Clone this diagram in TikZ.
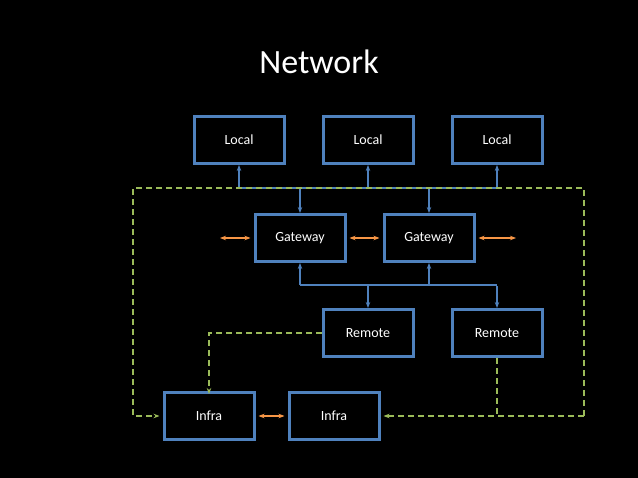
\documentclass[tikz,border=0pt]{standalone}
\usepackage{fontspec}
\setmainfont{Carlito}
\usetikzlibrary{arrows.meta}
\definecolor{boxblue}{RGB}{79,129,189}
\definecolor{linkorange}{RGB}{247,150,70}
\definecolor{dashgreen}{RGB}{155,187,89}
\tikzset{
  unit/.style={draw=boxblue, line width=3pt, fill=black, text=white,
    minimum width=90pt, minimum height=47pt, font=\fontsize{14}{16}\selectfont},
  bus/.style={draw=boxblue, line width=1.5pt, -{Stealth[length=6pt]}},
  peer/.style={draw=linkorange, line width=2pt, {Stealth[length=6pt]}-{Stealth[length=6pt]}},
  backup/.style={draw=dashgreen, line width=1.5pt, dash pattern=on 6pt off 4pt, -{Stealth[length=6pt,open]}}
}
\begin{document}
\begin{tikzpicture}[x=1pt, y=-1pt]
\fill[black] (0,0) rectangle (638,478);
\useasboundingbox (0,0) rectangle (638,478);
% Title
\node (title) [text=white, font=\fontsize{34}{40}\selectfont] at (319,62) {Network};
% Boxes
\node [unit] (loc1) at (239,140) {Local};
\node [unit] (loc2) at (368,140) {Local};
\node [unit] (loc3) at (497,140) {Local};
\node [unit] (gw1) at (300,238) {Gateway};
\node [unit] (gw2) at (429,238) {Gateway};
\node [unit] (rem1) at (368,333) {Remote};
\node [unit] (rem2) at (497,333) {Remote};
\node [unit] (inf1) at (209,416) {Infra};
\node [unit] (inf2) at (334,416) {Infra};
% Bus coordinates
\coordinate (topbus) at (368,188);
\coordinate (lowbus) at (368,285);
\coordinate (gwl) at (220,238);
\coordinate (gwr) at (516,238);
\coordinate (loopne) at (584,188);
\coordinate (loopnw) at (133,188);
\coordinate (loopse) at (584,416);
\coordinate (loopsw) at (133,416);
% Upper bus
\draw [boxblue, line width=1.5pt] (loc1.south |- topbus) -- (loc3.south |- topbus);
\foreach \n in {loc1, loc2, loc3} {
  \draw [bus] (\n.south |- topbus) -- (\n.south);
}
\foreach \n in {gw1, gw2} {
  \draw [bus] (\n.north |- topbus) -- (\n.north);
}
% Lower bus
\draw [boxblue, line width=1.5pt] (gw1.south |- lowbus) -- (rem2.north |- lowbus);
\foreach \n in {gw1, gw2} {
  \draw [bus] (\n.south |- lowbus) -- (\n.south);
}
\foreach \n in {rem1, rem2} {
  \draw [bus] (rem1.north -| \n.north) ++(0,-22) -- (\n.north);
}
% Peer links
\draw [peer] (gwl) -- ([xshift=-3pt]gw1.west);
\draw [peer] ([xshift=3pt]gw1.east) -- ([xshift=-3pt]gw2.west);
\draw [peer] ([xshift=3pt]gw2.east) -- (gwr);
\draw [peer] ([xshift=3pt]inf1.east) -- ([xshift=-3pt]inf2.west);
% Dashed backup paths
\draw [backup] (loopse) -- (loopne) -- (loopnw) -- (loopsw) -- ([xshift=-3pt]inf1.west);
\draw [backup] (loopse) -- ([xshift=3pt]inf2.east);
\draw [backup, -] (rem2.south) -- (rem2.south |- loopse);
\draw [backup] (rem1.west) -| ([yshift=-3pt]inf1.north);
\end{tikzpicture}
\end{document}
